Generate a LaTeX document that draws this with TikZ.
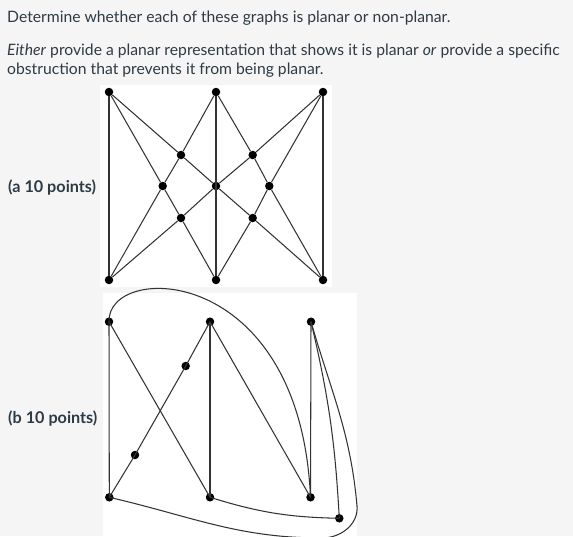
\documentclass[tikz,border=0pt]{standalone}
\usepackage{fontspec}
\setmainfont{Lato}
\definecolor{pagebg}{HTML}{F5F5F5}
\definecolor{txt}{HTML}{2D3B45}
\definecolor{edge}{HTML}{333333}
\begin{document}
\begin{tikzpicture}[x=1pt,y=-1pt,
  vtx/.style={circle,fill=black,inner sep=0pt,minimum size=8.5pt},
  ln/.style={draw=edge,line width=1.05pt},
  para/.style={anchor=base west,inner sep=0pt,text=txt,font=\fontsize{15.7}{18}\selectfont},
  lab/.style={anchor=base west,inner sep=0pt,text=txt,font=\fontsize{16.2}{18}\selectfont\bfseries}]
\useasboundingbox (0,0) rectangle (573,536);
\fill[pagebg] (0,0) rectangle (573,536);
\fill[white] (100,85) rectangle (332,287);
\fill[white] (103,293) rectangle (357,536);
% text
\node[para] (t1) at (7,22) {Determine whether each of these graphs is planar or non-planar.};
\node[para] (t2) at (7,55) {\textit{Either} provide a planar representation that shows it is planar \textit{or} provide a specific};
\node[para] (t3) at (7,74.5) {obstruction that prevents it from being planar.};
\node[lab] (la) at (8,192) {(a 10 points)};
\node[lab] (lb) at (8,423) {(b 10 points)};
% graph a
\node[vtx] (tl) at (109,92) {};
\node[vtx] (tm) at (216,92) {};
\node[vtx] (tr) at (323,92) {};
\node[vtx] (bl) at (109,280) {};
\node[vtx] (bm) at (216,280) {};
\node[vtx] (br) at (323,280) {};
\node[vtx] (u1) at (181,155) {};
\node[vtx] (u2) at (252.7,155) {};
\node[vtx] (m1) at (162.7,186) {};
\node[vtx] (m2) at (216,186) {};
\node[vtx] (m3) at (269.3,186) {};
\node[vtx] (d1) at (181,218) {};
\node[vtx] (d2) at (252.7,218) {};
\foreach \a/\b in {tl/bl,tl/u1,tl/m1,tm/u1,tm/bm,tm/u2,tr/u2,tr/m3,tr/br,
  u1/m1,u1/m2,u2/m2,u2/m3,m1/bl,m1/d1,m2/d1,m2/d2,m3/d2,m3/br,
  d1/bl,d1/bm,d2/bm,d2/br}
  \draw[ln] (\a) -- (\b);
% graph b
\node[vtx] (A) at (109,321.7) {};
\node[vtx] (B) at (210,321.7) {};
\node[vtx] (C) at (311,321.7) {};
\node[vtx] (D) at (185.7,366) {};
\node[vtx] (E) at (135,455) {};
\node[vtx] (F) at (109.3,497.3) {};
\node[vtx] (G) at (210,497.3) {};
\node[vtx] (H) at (310.5,497.3) {};
\node[vtx] (I) at (339.3,518.3) {};
\begin{scope}
\clip (0,0) rectangle (573,536);
\draw[ln] (A.center) -- (F.center);
\draw[ln] (A.center) -- (G.center);
\draw[ln] (B.center) -- (D.center) -- (E.center) -- (F.center);
\draw[ln] (B.center) -- (G.center);
\draw[ln] (B.center) -- (H.center);
\draw[ln] (C.center) -- (H.center);
\draw[ln] (C.center) to[bend left=5] (I.center);
\draw[ln] (G.center) to[bend right=8] (I.center);
\draw[ln] (A.center) .. controls (107,262) and (300,262) .. (H.center);
\draw[ln] (F.center) to[out=-13,in=180] (322,538) to[out=0,in=-85] (357,506)
  to[out=95,in=-74] (C.center);
\end{scope}
\end{tikzpicture}
\end{document}
